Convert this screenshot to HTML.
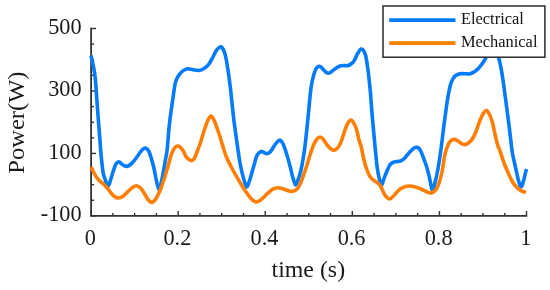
<!DOCTYPE html>
<html><head><meta charset="utf-8"><title>Power chart</title>
<style>
html,body{margin:0;padding:0;background:#fff;}
svg{display:block;font-family:"Liberation Serif",serif;fill:#1a1a1a;}
</style></head><body>
<svg width="550" height="290" viewBox="0 0 550 290">
<rect width="550" height="290" fill="#fff"/>
<g stroke="#333" stroke-width="1.4" fill="none">
<path stroke-width="1.8" d="M91.1 27.8V215.9H527.2"/>
<line x1="91.10" y1="28.50" x2="96.00" y2="28.50"/><line x1="91.10" y1="44.12" x2="94.00" y2="44.12"/><line x1="91.10" y1="59.73" x2="94.00" y2="59.73"/><line x1="91.10" y1="75.35" x2="94.00" y2="75.35"/><line x1="91.10" y1="90.97" x2="96.00" y2="90.97"/><line x1="91.10" y1="106.58" x2="94.00" y2="106.58"/><line x1="91.10" y1="122.20" x2="94.00" y2="122.20"/><line x1="91.10" y1="137.82" x2="94.00" y2="137.82"/><line x1="91.10" y1="153.43" x2="96.00" y2="153.43"/><line x1="91.10" y1="169.05" x2="94.00" y2="169.05"/><line x1="91.10" y1="184.67" x2="94.00" y2="184.67"/><line x1="91.10" y1="200.28" x2="94.00" y2="200.28"/><line x1="91.10" y1="215.90" x2="96.00" y2="215.90"/><line x1="91.10" y1="215.90" x2="91.10" y2="211.00"/><line x1="112.87" y1="215.90" x2="112.87" y2="213.00"/><line x1="134.64" y1="215.90" x2="134.64" y2="213.00"/><line x1="156.41" y1="215.90" x2="156.41" y2="213.00"/><line x1="178.18" y1="215.90" x2="178.18" y2="211.00"/><line x1="199.95" y1="215.90" x2="199.95" y2="213.00"/><line x1="221.72" y1="215.90" x2="221.72" y2="213.00"/><line x1="243.49" y1="215.90" x2="243.49" y2="213.00"/><line x1="265.26" y1="215.90" x2="265.26" y2="211.00"/><line x1="287.03" y1="215.90" x2="287.03" y2="213.00"/><line x1="308.80" y1="215.90" x2="308.80" y2="213.00"/><line x1="330.57" y1="215.90" x2="330.57" y2="213.00"/><line x1="352.34" y1="215.90" x2="352.34" y2="211.00"/><line x1="374.11" y1="215.90" x2="374.11" y2="213.00"/><line x1="395.88" y1="215.90" x2="395.88" y2="213.00"/><line x1="417.65" y1="215.90" x2="417.65" y2="213.00"/><line x1="439.42" y1="215.90" x2="439.42" y2="211.00"/><line x1="461.19" y1="215.90" x2="461.19" y2="213.00"/><line x1="482.96" y1="215.90" x2="482.96" y2="213.00"/><line x1="504.73" y1="215.90" x2="504.73" y2="213.00"/><line x1="526.50" y1="215.90" x2="526.50" y2="211.00"/>
</g>
<g fill="none" stroke-width="3.6" stroke-linejoin="round" stroke-linecap="butt">
<path stroke="#037bfa" d="M91.00 55.50C91.33 56.87 91.67 58.15 92.00 59.60C92.33 61.05 92.67 62.53 93.00 64.20C93.33 65.87 93.67 67.63 94.00 69.60C94.33 71.57 94.67 73.08 95.00 76.00C95.27 78.33 95.53 81.12 95.80 84.50C96.10 88.31 96.40 93.67 96.70 98.00C97.47 109.08 98.23 118.12 99.00 128.00C99.73 137.45 100.47 148.29 101.20 156.00C101.87 163.01 102.53 169.15 103.20 173.00C103.80 176.47 104.40 177.16 105.00 179.00C105.57 180.74 106.13 182.54 106.70 183.80C107.17 184.83 107.63 186.26 108.10 186.20C108.53 186.14 108.97 184.88 109.40 183.80C109.93 182.46 110.47 180.25 111.00 178.50C111.67 176.31 112.33 174.05 113.00 172.00C113.87 169.34 114.73 166.28 115.60 164.60C116.50 162.85 117.40 162.26 118.30 161.90C119.87 161.28 121.43 164.23 123.00 165.00C124.33 165.66 125.67 166.57 127.00 166.40C128.33 166.23 129.67 165.12 131.00 164.00C132.50 162.74 134.00 160.93 135.50 159.00C136.67 157.50 137.83 155.62 139.00 154.00C139.83 152.84 140.67 151.54 141.50 150.60C142.17 149.85 142.83 149.12 143.50 148.70C144.07 148.34 144.63 148.08 145.20 148.10C145.80 148.12 146.40 148.38 147.00 148.90C147.67 149.48 148.33 150.22 149.00 151.60C149.83 153.32 150.67 156.18 151.50 159.00C152.33 161.82 153.17 164.78 154.00 168.50C154.67 171.48 155.33 175.28 156.00 178.50C156.53 181.07 157.07 184.12 157.60 186.00C158.00 187.41 158.40 188.99 158.80 189.20C159.33 189.48 159.87 187.18 160.40 185.50C161.13 183.18 161.87 179.62 162.60 176.00C163.53 171.40 164.47 165.43 165.40 160.00C165.97 156.70 166.53 154.86 167.10 150.00C167.73 144.57 168.37 134.50 169.00 128.00C170.33 114.31 171.67 107.27 173.00 98.00C173.70 93.13 174.40 87.33 175.10 84.00C175.80 80.67 176.50 79.57 177.20 78.00C177.90 76.43 178.60 75.59 179.30 74.60C180.60 72.77 181.90 71.54 183.20 70.60C184.47 69.69 185.73 69.27 187.00 69.00C189.00 68.57 191.00 69.45 193.00 69.70C195.00 69.95 197.00 70.82 199.00 70.50C200.67 70.24 202.33 69.58 204.00 68.50C205.67 67.42 207.33 66.29 209.00 64.00C210.33 62.17 211.67 59.52 213.00 57.00C214.00 55.11 215.00 52.57 216.00 51.00C216.90 49.59 217.80 48.50 218.70 47.80C219.47 47.20 220.23 46.50 221.00 46.80C221.67 47.06 222.33 47.80 223.00 49.00C223.67 50.20 224.33 51.58 225.00 54.00C226.00 57.63 227.00 63.46 228.00 70.00C228.80 75.23 229.60 81.35 230.40 88.00C231.43 96.59 232.47 108.33 233.50 117.00C234.53 125.67 235.57 132.66 236.60 140.00C237.73 148.05 238.87 156.64 240.00 163.00C241.33 170.48 242.67 175.59 244.00 180.00C244.87 182.87 245.73 186.68 246.60 187.00C247.53 187.34 248.47 183.63 249.40 181.00C250.10 179.02 250.80 176.37 251.50 174.00C252.37 171.06 253.23 168.04 254.10 165.00C254.90 162.20 255.70 158.51 256.50 156.50C257.27 154.58 258.03 153.84 258.80 153.00C259.63 152.08 260.47 151.54 261.30 151.40C262.37 151.22 263.43 152.43 264.50 152.80C265.53 153.16 266.57 153.84 267.60 153.60C268.73 153.34 269.87 152.35 271.00 151.00C272.00 149.81 273.00 147.76 274.00 146.30C275.07 144.74 276.13 143.02 277.20 142.00C278.20 141.04 279.20 139.82 280.20 140.20C281.13 140.55 282.07 141.95 283.00 143.80C284.00 145.78 285.00 148.94 286.00 152.00C287.33 156.08 288.67 160.95 290.00 166.00C291.00 169.79 292.00 174.70 293.00 178.00C293.87 180.86 294.73 184.82 295.60 185.00C296.40 185.17 297.20 182.11 298.00 180.00C299.00 177.36 300.00 174.48 301.00 170.00C302.33 164.03 303.67 156.54 305.00 146.00C306.00 138.10 307.00 127.67 308.00 118.00C309.00 108.33 310.00 95.33 311.00 88.00C312.00 80.67 313.00 77.37 314.00 74.00C314.67 71.76 315.33 70.22 316.00 69.00C316.60 67.90 317.20 67.26 317.80 66.80C318.30 66.41 318.80 66.20 319.30 66.20C319.87 66.20 320.43 66.58 321.00 67.00C321.83 67.61 322.67 68.93 323.50 69.80C324.33 70.67 325.17 71.63 326.00 72.20C326.83 72.77 327.67 73.23 328.50 73.20C329.33 73.17 330.17 72.52 331.00 72.00C332.00 71.37 333.00 70.33 334.00 69.60C336.00 68.13 338.00 66.63 340.00 66.00C341.33 65.58 342.67 65.57 344.00 65.50C345.33 65.43 346.67 65.99 348.00 65.60C349.00 65.31 350.00 64.77 351.00 64.00C352.00 63.23 353.00 62.43 354.00 61.00C355.33 59.10 356.67 55.16 358.00 53.00C359.00 51.38 360.00 49.28 361.00 49.00C361.83 48.77 362.67 49.24 363.50 50.50C364.17 51.51 364.83 52.39 365.50 55.00C366.33 58.26 367.17 63.61 368.00 70.00C368.67 75.11 369.33 80.94 370.00 88.00C370.80 96.47 371.60 108.66 372.40 118.00C373.27 128.11 374.13 137.04 375.00 146.00C375.67 152.89 376.33 160.70 377.00 166.00C377.83 172.63 378.67 176.25 379.50 179.50C380.23 182.36 380.97 185.27 381.70 185.20C382.47 185.12 383.23 180.59 384.00 178.50C384.93 175.96 385.87 173.67 386.80 171.50C387.77 169.26 388.73 166.75 389.70 165.30C390.47 164.15 391.23 163.56 392.00 163.00C392.83 162.39 393.67 162.15 394.50 161.90C395.50 161.60 396.50 161.65 397.50 161.50C398.50 161.35 399.50 161.38 400.50 161.00C401.50 160.62 402.50 160.04 403.50 159.20C404.67 158.22 405.83 156.63 407.00 155.30C408.00 154.16 409.00 152.88 410.00 151.80C410.83 150.90 411.67 150.00 412.50 149.30C413.27 148.65 414.03 148.05 414.80 147.70C415.43 147.41 416.07 147.14 416.70 147.20C417.30 147.26 417.90 147.51 418.50 148.00C419.13 148.52 419.77 149.23 420.40 150.30C421.43 152.05 422.47 155.27 423.50 158.00C424.57 160.82 425.63 163.45 426.70 167.00C427.47 169.55 428.23 172.59 429.00 175.50C430.23 180.19 431.47 190.87 432.70 190.20C433.47 189.78 434.23 185.44 435.00 182.50C435.67 179.95 436.33 177.28 437.00 174.00C438.20 168.10 439.40 160.46 440.60 152.00C441.73 144.01 442.87 133.55 444.00 125.00C445.37 114.68 446.73 103.61 448.10 96.00C448.97 91.17 449.83 86.97 450.70 84.00C451.53 81.15 452.37 79.71 453.20 78.30C454.07 76.84 454.93 76.18 455.80 75.50C456.70 74.79 457.60 74.51 458.50 74.20C459.50 73.85 460.50 73.69 461.50 73.60C462.83 73.48 464.17 73.76 465.50 73.80C467.00 73.84 468.50 74.16 470.00 73.80C471.43 73.46 472.87 72.75 474.30 71.80C475.63 70.91 476.97 69.77 478.30 68.40C479.53 67.13 480.77 65.68 482.00 64.00C483.00 62.64 484.00 61.33 485.00 59.50C486.00 57.67 487.00 54.88 488.00 53.00C489.33 50.49 490.67 47.33 492.00 47.00C493.33 46.67 494.67 48.40 496.00 51.00C497.00 52.95 498.00 55.24 499.00 59.00C500.13 63.26 501.27 68.96 502.40 76.00C503.37 82.00 504.33 89.86 505.30 97.00C506.53 106.11 507.77 115.24 509.00 125.00C510.13 133.97 511.27 145.99 512.40 153.00C513.27 158.36 514.13 161.10 515.00 165.00C516.33 171.00 517.67 178.29 519.00 182.30C519.67 184.31 520.33 186.77 521.00 187.00C522.00 187.34 523.00 182.50 524.00 179.00C524.80 176.20 525.60 172.33 526.40 169.00"/>
<path stroke="#fe7e02" d="M91.00 167.00C92.00 169.00 93.00 171.17 94.00 173.00C95.00 174.83 96.00 176.62 97.00 178.00C98.33 179.84 99.67 180.75 101.00 182.00C102.33 183.25 103.67 184.11 105.00 185.50C106.00 186.54 107.00 187.75 108.00 189.00C109.00 190.25 110.00 191.82 111.00 193.00C112.17 194.38 113.33 195.67 114.50 196.50C115.67 197.33 116.83 197.87 118.00 198.00C119.80 198.21 121.60 197.23 123.40 196.00C125.10 194.84 126.80 192.57 128.50 191.00C129.87 189.74 131.23 188.27 132.60 187.40C133.90 186.57 135.20 185.72 136.50 185.80C137.83 185.89 139.17 186.69 140.50 188.00C141.80 189.28 143.10 191.49 144.40 193.50C145.60 195.35 146.80 198.04 148.00 199.50C149.33 201.13 150.67 202.60 152.00 202.40C153.00 202.25 154.00 201.23 155.00 200.00C156.00 198.77 157.00 197.00 158.00 195.00C159.00 193.00 160.00 190.62 161.00 188.00C162.13 185.03 163.27 181.50 164.40 178.00C165.43 174.81 166.47 171.46 167.50 168.00C168.83 163.54 170.17 157.55 171.50 154.00C172.43 151.52 173.37 149.53 174.30 148.20C175.33 146.73 176.37 146.12 177.40 146.00C178.27 145.90 179.13 146.35 180.00 147.00C181.00 147.75 182.00 148.92 183.00 150.50C184.00 152.08 185.00 155.00 186.00 156.50C187.00 158.00 188.00 158.81 189.00 159.50C189.87 160.10 190.73 160.72 191.60 160.60C192.40 160.49 193.20 160.13 194.00 159.00C195.00 157.59 196.00 154.50 197.00 152.00C198.00 149.50 199.00 146.87 200.00 144.00C201.67 139.22 203.33 132.78 205.00 128.00C206.00 125.13 207.00 122.00 208.00 120.00C209.00 118.00 210.00 116.00 211.00 116.00C212.00 116.00 213.00 118.00 214.00 120.00C215.00 122.00 216.00 125.19 217.00 128.00C218.33 131.75 219.67 135.67 221.00 140.00C221.83 142.71 222.67 145.83 223.50 148.50C224.33 151.17 225.17 153.78 226.00 156.00C227.33 159.55 228.67 161.83 230.00 164.50C231.33 167.17 232.67 169.58 234.00 172.00C235.33 174.42 236.67 176.70 238.00 179.00C239.33 181.30 240.67 183.63 242.00 185.80C243.33 187.97 244.67 190.08 246.00 192.00C247.33 193.92 248.67 195.76 250.00 197.30C251.17 198.64 252.33 200.01 253.50 200.80C254.47 201.46 255.43 201.96 256.40 202.00C257.60 202.05 258.80 201.26 260.00 200.50C261.33 199.65 262.67 198.25 264.00 197.00C265.33 195.75 266.67 194.23 268.00 193.00C269.33 191.77 270.67 190.42 272.00 189.60C273.00 188.99 274.00 188.60 275.00 188.30C276.00 188.00 277.00 187.82 278.00 187.80C279.33 187.77 280.67 188.13 282.00 188.50C283.33 188.87 284.67 189.53 286.00 190.00C287.00 190.35 288.00 190.77 289.00 191.00C290.00 191.23 291.00 191.48 292.00 191.40C293.00 191.32 294.00 191.07 295.00 190.50C296.00 189.93 297.00 189.42 298.00 188.00C299.00 186.58 300.00 184.33 301.00 182.00C302.00 179.67 303.00 176.83 304.00 174.00C305.00 171.17 306.00 168.17 307.00 165.00C308.00 161.83 309.00 158.08 310.00 155.00C311.33 150.89 312.67 146.84 314.00 144.00C315.00 141.87 316.00 140.17 317.00 139.00C318.00 137.83 319.00 137.00 320.00 137.00C321.00 137.00 322.00 137.83 323.00 139.00C323.67 139.78 324.33 141.04 325.00 142.00C326.00 143.43 327.00 144.83 328.00 146.00C329.00 147.17 330.00 148.28 331.00 149.00C332.00 149.72 333.00 150.38 334.00 150.30C335.00 150.22 336.00 149.49 337.00 148.50C337.67 147.84 338.33 147.08 339.00 146.00C339.67 144.92 340.33 143.56 341.00 142.00C342.33 138.89 343.67 133.49 345.00 130.00C346.00 127.38 347.00 124.67 348.00 123.00C349.00 121.33 350.00 119.92 351.00 120.00C352.00 120.08 353.00 121.67 354.00 123.50C355.00 125.33 356.00 127.30 357.00 131.00C357.67 133.47 358.33 137.50 359.00 140.00C359.67 142.50 360.33 143.56 361.00 146.00C362.00 149.67 363.00 156.00 364.00 160.00C365.00 164.00 366.00 167.25 367.00 170.00C368.00 172.75 369.00 174.83 370.00 176.50C371.33 178.72 372.67 179.42 374.00 180.50C375.33 181.58 376.67 181.63 378.00 183.00C379.00 184.03 380.00 185.25 381.00 187.00C382.00 188.75 383.00 191.75 384.00 193.50C385.00 195.25 386.00 196.56 387.00 197.50C387.80 198.25 388.60 198.92 389.40 199.00C390.60 199.12 391.80 197.58 393.00 196.50C394.33 195.30 395.67 193.33 397.00 192.00C398.33 190.67 399.67 189.40 401.00 188.50C402.33 187.60 403.67 187.02 405.00 186.60C406.33 186.18 407.67 186.03 409.00 186.00C410.00 185.97 411.00 186.05 412.00 186.20C413.33 186.39 414.67 186.80 416.00 187.20C417.67 187.70 419.33 188.28 421.00 189.00C422.67 189.72 424.33 190.83 426.00 191.50C427.67 192.17 429.33 193.33 431.00 193.00C432.00 192.80 433.00 192.33 434.00 191.50C435.00 190.67 436.00 189.92 437.00 188.00C438.00 186.08 439.00 183.47 440.00 180.00C440.67 177.69 441.33 175.20 442.00 172.00C443.00 167.20 444.00 158.35 445.00 154.00C445.67 151.10 446.33 149.33 447.00 147.50C447.67 145.67 448.33 144.15 449.00 143.00C449.83 141.56 450.67 140.90 451.50 140.30C452.33 139.70 453.17 139.46 454.00 139.40C455.33 139.31 456.67 140.27 458.00 141.00C459.33 141.73 460.67 143.20 462.00 143.80C463.00 144.25 464.00 144.67 465.00 144.60C466.33 144.50 467.67 143.60 469.00 142.50C470.33 141.40 471.67 140.29 473.00 138.00C474.00 136.28 475.00 134.00 476.00 131.50C477.00 129.00 478.00 125.58 479.00 123.00C480.33 119.56 481.67 116.11 483.00 114.00C484.17 112.15 485.33 110.20 486.50 110.50C487.50 110.76 488.50 112.47 489.50 114.50C490.43 116.39 491.37 118.69 492.30 122.00C493.33 125.67 494.37 131.71 495.40 136.00C496.27 139.60 497.13 143.33 498.00 146.00C498.67 148.06 499.33 149.22 500.00 151.00C501.33 154.56 502.67 159.42 504.00 163.00C505.33 166.58 506.67 169.50 508.00 172.50C509.33 175.50 510.67 178.67 512.00 181.00C513.33 183.33 514.67 185.00 516.00 186.50C517.33 188.00 518.67 189.12 520.00 190.00C521.00 190.66 522.00 191.13 523.00 191.50C524.00 191.87 525.00 191.97 526.00 192.20"/>
</g>
<g font-size="23.2px"><text transform="translate(81.6,33.60) scale(0.96,1)" text-anchor="end">500</text><text transform="translate(81.6,96.07) scale(0.96,1)" text-anchor="end">300</text><text transform="translate(81.6,158.53) scale(0.96,1)" text-anchor="end">100</text><text transform="translate(81.6,221.00) scale(0.96,1)" text-anchor="end">-100</text><text transform="translate(90.30,245) scale(0.96,1)" text-anchor="middle">0</text><text transform="translate(177.38,245) scale(0.96,1)" text-anchor="middle">0.2</text><text transform="translate(264.46,245) scale(0.96,1)" text-anchor="middle">0.4</text><text transform="translate(351.54,245) scale(0.96,1)" text-anchor="middle">0.6</text><text transform="translate(438.62,245) scale(0.96,1)" text-anchor="middle">0.8</text><text transform="translate(525.70,245) scale(0.96,1)" text-anchor="middle">1</text></g>
<text font-size="23.4px" transform="translate(308.3,276.5) scale(1.02,1)" text-anchor="middle">time (s)</text>
<text font-size="23.5px" transform="translate(24.4,122.6) rotate(-90) scale(1.045,1)" text-anchor="middle">Power(W)</text>
<rect x="383" y="6" width="161.9" height="51.2" fill="#fff" stroke="#2a2a2a" stroke-width="1.5"/>
<line x1="389.2" y1="20.1" x2="455.5" y2="20.1" stroke="#037bfa" stroke-width="3.6"/>
<line x1="389.2" y1="43.1" x2="455.5" y2="43.1" stroke="#fe7e02" stroke-width="3.6"/>
<g font-size="16.4px" fill="#111"><text x="461" y="23.5">Electrical</text><text x="461" y="46.5">Mechanical</text></g>
</svg>
</body></html>
